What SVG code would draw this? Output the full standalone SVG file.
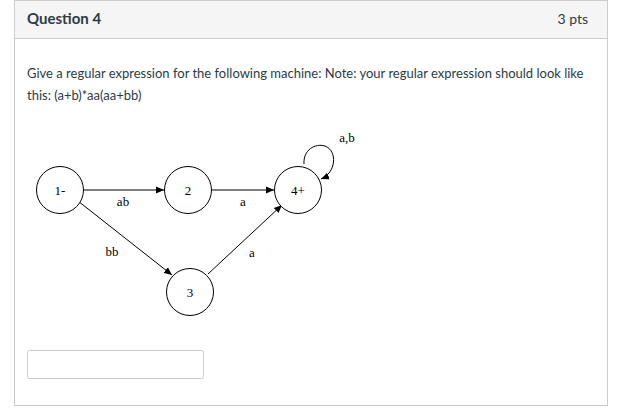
<svg xmlns="http://www.w3.org/2000/svg" width="640" height="414" viewBox="0 0 640 414">
<style>
.ui{font-family:Lato,"Liberation Sans",sans-serif;fill:#2d3b45}
.n{fill:#fff;stroke:#000;stroke-width:1}
.t{font-family:"Liberation Serif",serif;font-size:13px;fill:#000;text-anchor:middle}
.e{stroke:#000;stroke-width:1;fill:none;marker-end:url(#ah)}
</style>
<defs><marker id="ah" markerWidth="8" markerHeight="8" refX="8" refY="4" orient="auto" markerUnits="userSpaceOnUse"><path d="M0,0.5 L8,4 L0,7.5 Z" fill="#000"/></marker></defs>
<rect width="640" height="414" fill="#fff"/>
<rect x="14.5" y="0.5" width="593" height="405" fill="#fff" stroke="#c7cdd1"/>
<rect x="15" y="1" width="592" height="37" fill="#f5f5f5"/>
<line x1="15" y1="38.5" x2="607" y2="38.5" stroke="#c7cdd1"/>
<text class="ui" x="27" y="24" font-size="15" font-weight="bold">Question 4</text>
<text class="ui" x="588" y="24" font-size="14" text-anchor="end">3 pts</text>
<text class="ui" x="27" y="78" font-size="13">Give a regular expression for the following machine: Note: your regular expression should look like</text>
<text class="ui" x="27" y="100" font-size="13">this: (a+b)*aa(aa+bb)</text>
<rect x="27.5" y="350.5" width="176" height="28" rx="2" fill="#fff" stroke="#c7cdd1"/>
<g id="connectors">
<line class="e" x1="84" y1="190" x2="164" y2="190"/>
<line class="e" x1="212" y1="190" x2="274" y2="190"/>
<line class="e" x1="78" y1="201" x2="172" y2="275"/>
<line class="e" x1="208" y1="274" x2="282" y2="205"/>
<path class="e" d="M304,164 C303,150 315,143 325,146 C338,151 336,173 321,179"/>
<text class="t" x="123" y="206">ab</text>
<text class="t" x="243" y="206">a</text>
<text class="t" x="112" y="256">bb</text>
<text class="t" x="252" y="257">a</text>
<text class="t" x="347" y="142">a,b</text>
</g>
<g id="n1"><circle class="n" cx="60" cy="190" r="23.5"/><text class="t" x="60" y="195">1-</text></g>
<g id="n2"><circle class="n" cx="188" cy="190" r="23.5"/><text class="t" x="188" y="195">2</text></g>
<g id="n4"><circle class="n" cx="298" cy="190" r="23.5"/><text class="t" x="298" y="195">4+</text></g>
<g id="n3"><circle class="n" cx="190" cy="292" r="23.5"/><text class="t" x="190" y="297">3</text></g>
</svg>
